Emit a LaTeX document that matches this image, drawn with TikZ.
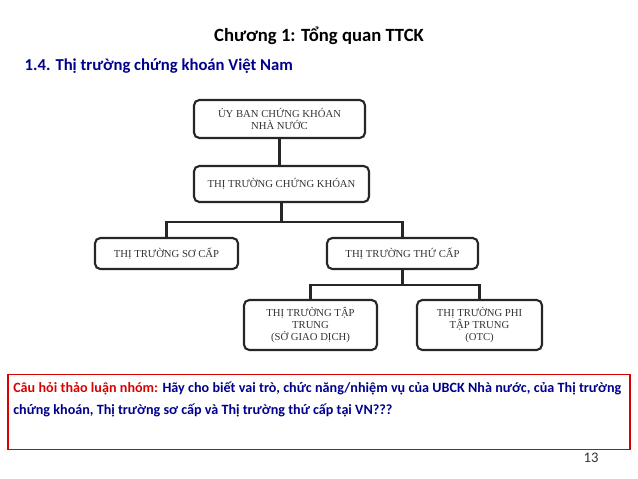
\documentclass[tikz,border=0pt]{standalone}
\usepackage{fontspec}
\setmainfont{Carlito}
\newfontfamily\boxfont{Liberation Serif}
\begin{document}
\begin{tikzpicture}[x=0.75pt,y=-0.75pt,
  bx/.style={draw=black!85,line width=1.6pt,rounded corners=4pt,inner sep=0pt,align=center,font=\boxfont\fontsize{8}{9}\selectfont,text=black!80},
  ln/.style={line width=1.6pt,draw=black!85}]
\useasboundingbox (0,0) rectangle (638,478);
\node[font=\bfseries\fontsize{14}{16}\selectfont] (t) at (319,36) {Chương 1: Tổng quan TTCK};
\node[font=\bfseries\fontsize{12.5}{15}\selectfont,text=blue!55!black,anchor=west] (s) at (20,66) {1.4. Thị trường chứng khoán Việt Nam};
\node[bx,minimum width=0.75*171pt,minimum height=0.75*38pt] (a) at (279.5,119) {ỦY BAN CHỨNG KHÓAN\\NHÀ NƯỚC};
\node[bx,minimum width=0.75*175pt,minimum height=0.75*36pt] (b) at (281.5,184) {THỊ TRƯỜNG CHỨNG KHÓAN};
\node[bx,minimum width=0.75*143pt,minimum height=0.75*31pt] (c) at (166.5,253.5) {THỊ TRƯỜNG SƠ CẤP};
\node[bx,minimum width=0.75*151pt,minimum height=0.75*31pt] (d) at (402.5,253.5) {THỊ TRƯỜNG THỨ CẤP};
\node[bx,minimum width=0.75*133pt,minimum height=0.75*50pt] (e) at (310.5,325) {THỊ TRƯỜNG TẬP\\TRUNG\\(SỞ GIAO DỊCH)};
\node[bx,minimum width=0.75*125pt,minimum height=0.75*50pt] (f) at (479.5,325) {THỊ TRƯỜNG PHI\\TẬP TRUNG\\(OTC)};
\draw[ln] (a.south) -- (a.south |- b.north);
\draw[ln] (b.south) -- ++(0,19) -| (c.north);
\draw[ln] (b.south) -- ++(0,19) -| (d.north);
\draw[ln] (d.south) -- ++(0,15) -| (e.north);
\draw[ln] (d.south) -- ++(0,15) -| (f.north);
\node[draw=red!85!black,line width=1pt,minimum width=0.75*622pt,minimum height=0.75*75pt,inner sep=0pt] (q) at (319,412) {};
\node[anchor=north west,text width=0.75*608pt,align=justify,font=\bfseries\fontsize{10.6}{16.5}\selectfont,text=blue!55!black,inner sep=0pt] (qt) at (13,382) {\textcolor{red!85!black}{Câu hỏi thảo luận nhóm:} Hãy cho biết vai trò, chức năng/nhiệm vụ của UBCK Nhà nước, của Thị trường chứng khoán, Thị trường sơ cấp và Thị trường thứ cấp tại VN???};
\node[font=\fontsize{11}{13}\selectfont,text=black!80] (n) at (591,458) {13};
\end{tikzpicture}
\end{document}
